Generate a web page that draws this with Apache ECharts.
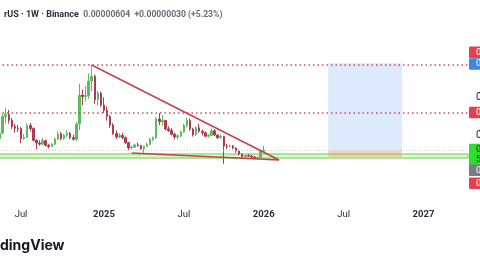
<!DOCTYPE html>
<html>
<head>
<meta charset="utf-8">
<script src="https://cdn.jsdelivr.net/npm/echarts@6/dist/echarts.min.js"></script>
<style>
  html, body { margin: 0; padding: 0; background: #fff; }
  #chart { width: 480px; height: 270px; }
</style>
</head>
<body>
<div id="chart"></div>
<script>
// PEPE / USDT weekly, prices in units of 0.000001
const firstWeek = '2024-05-13'
const weekCount = 153

const opens = [9.0, 10.5, 14.9, 15.4, 13.9, 12.2, 11.8, 11.7, 9.1, 9.4, 12.5, 11.7, 8.6, 7.9, 7.6, 8.5, 7.3, 7.0, 7.6, 8.9,
  10.3, 9.1, 9.9, 10.4, 9.3, 8.9, 12.9, 20.5, 20.1, 20.4, 24.2, 25.4, 19.3, 21.0, 17.9, 16.5, 14.9, 12.6, 10.4, 9.5,
  9.9, 9.3, 8.0, 6.6, 6.8, 7.4, 7.2, 6.4, 7.0, 7.5, 8.9, 9.3, 14.2, 13.5, 13.8, 11.6, 11.2, 10.2, 9.5, 9.8,
  10.8, 12.5, 13.8, 11.6, 10.1, 11.9, 11.0, 10.6, 9.7, 9.9, 11.1, 10.0, 9.3, 9.6, 7.1, 7.0, 7.1, 6.6, 5.8, 5.0,
  4.3, 4.6, 4.5, 4.2, 4.0, 4.1, 5.74]
const closes = [10.5, 14.9, 15.4, 13.9, 12.2, 11.8, 11.7, 9.1, 9.4, 12.5, 11.7, 8.6, 7.9, 7.6, 8.5, 7.3, 7.0, 7.6, 8.9, 10.3,
  9.1, 9.9, 10.4, 9.3, 8.9, 12.9, 20.5, 20.1, 20.4, 24.2, 25.4, 19.3, 21.0, 17.9, 16.5, 14.9, 12.6, 10.4, 9.5, 9.9,
  9.3, 8.0, 6.6, 6.8, 7.4, 7.2, 6.4, 7.0, 7.5, 8.9, 9.3, 14.2, 13.5, 13.8, 11.6, 11.2, 10.2, 9.5, 9.8, 10.8,
  12.5, 13.8, 11.6, 10.1, 11.9, 11.0, 10.6, 9.7, 9.9, 11.1, 10.0, 9.3, 9.6, 7.1, 7.0, 7.1, 6.6, 5.8, 5.0, 4.3,
  4.6, 4.5, 4.2, 4.0, 4.1, 5.74, 6.04]
const lows = [8.5, 10.2, 13.0, 13.0, 11.6, 10.6, 10.8, 7.9, 8.7, 9.2, 11.0, 8.3, 6.2, 7.2, 7.4, 7.0, 6.5, 6.8, 7.3, 8.7,
  8.6, 8.7, 9.5, 8.9, 8.5, 8.4, 11.3, 17.8, 18.8, 19.5, 21.5, 18.2, 17.7, 17.4, 15.8, 13.8, 11.9, 10.0, 8.9, 9.1,
  8.9, 7.6, 6.0, 6.2, 6.6, 6.9, 6.1, 5.3, 6.9, 7.4, 8.4, 9.0, 12.6, 12.4, 11.2, 10.8, 9.9, 8.9, 8.8, 9.4,
  10.6, 12.0, 11.1, 9.6, 9.8, 10.6, 9.9, 9.4, 9.3, 9.8, 9.7, 8.9, 9.1, 2.4, 6.4, 6.7, 6.3, 5.3, 4.7, 4.0,
  4.2, 4.2, 4.0, 3.8, 3.9, 4.0, 5.5]
const highs = [11.0, 15.6, 17.2, 16.6, 14.5, 12.9, 12.6, 12.1, 10.3, 13.0, 13.2, 12.0, 8.9, 8.6, 9.2, 8.8, 7.7, 7.9, 9.3, 10.9,
  10.8, 10.3, 11.3, 10.8, 10.1, 13.4, 23.5, 22.0, 22.8, 26.2, 28.4, 25.9, 21.6, 21.4, 19.9, 17.5, 15.3, 13.1, 11.2, 10.5,
  10.6, 9.6, 8.2, 7.2, 7.7, 8.0, 7.4, 7.2, 8.0, 9.2, 9.6, 14.6, 15.8, 15.2, 14.0, 12.3, 11.8, 10.6, 10.2, 11.2,
  13.0, 14.6, 14.3, 11.9, 12.3, 12.9, 11.4, 10.9, 10.3, 11.7, 11.5, 10.2, 10.2, 9.8, 7.7, 7.5, 7.4, 6.8, 6.2, 5.1,
  4.8, 5.0, 4.8, 4.4, 4.3, 6.2, 7.2]

// horizontal levels
const dottedLevels = [28.4, 15.8]
const lastPrice = 6.04
const supportBand = [5.0, 3.96]

// triangle pattern: [week, price]
const triUpper = [['2024-12-09', 28.4], ['2026-02-09', 3.43]]
const triLower = [['2025-03-10', 5.27], ['2026-02-09', 3.43]]

// projection box: [week from, week to], prices
const boxWeeks = ['2026-06-01', '2026-11-16']
const boxTop = 28.9
const boxEntry = 5.9
const boxStop = 4.3

// right-hand price tags
const tagPrices = [31.8, 28.7, 15.9, 4.8, 0.7, -2.7]
const tagTexts = ['0.00003180', '0.00002870', '0.00001590', '0.00000604\n5d 12h', '0.00000070', '0.00000000']

const weeks = []
const d0 = new Date(firstWeek + 'T00:00:00Z')
for (let i = 0; i < weekCount; i++) {
  weeks.push(new Date(d0.getTime() + i * 7 * 86400000).toISOString().slice(0, 10))
}
const candles = opens.map((o, i) => [o, closes[i], lows[i], highs[i]])

const up = '#5cbc5c'
const down = '#b03a52'
const font = 'Roboto, "Noto Sans", sans-serif'

const chart = echarts.init(document.getElementById('chart'))
chart.setOption({
  animation: false,
  backgroundColor: '#fff',
  title: {
    left: -1,
    top: 5,
    text: '{s|rUS · 1W · Binance  }{v|0.00000604  +0.00000030 (+5.23%)}',
    textStyle: {
      fontSize: 9,
      rich: {
        s: { fontFamily: font, fontSize: 9, color: '#2a2e39' },
        v: { fontFamily: font, fontSize: 8.6, color: '#6a6d78' }
      }
    }
  },
  grid: { left: -2, right: 12, top: 21, bottom: 97, outerBoundsMode: 'none', containLabel: false },
  xAxis: {
    type: 'category',
    data: weeks,
    axisLine: { show: false },
    axisTick: { show: false },
    splitLine: { show: false },
    axisLabel: {
      margin: 37,
      interval: (idx, val) => {
        const m = val.slice(5, 7)
        return (m === '01' || m === '07') && +val.slice(8) <= 7
      },
      formatter: val => val.slice(5, 7) === '01' ? '{y|' + val.slice(0, 4) + '}' : 'Jul',
      fontFamily: font,
      fontSize: 9.5,
      color: '#2a2e39',
      rich: { y: { fontFamily: font, fontSize: 9.5, fontWeight: 'bold', color: '#2a2e39' } }
    }
  },
  yAxis: {
    type: 'value',
    position: 'right',
    min: 0,
    max: 40,
    interval: 10,
    axisLine: { show: false },
    axisTick: { show: false },
    splitLine: { show: false },
    axisLabel: {
      margin: 8,
      fontFamily: font,
      fontSize: 10,
      color: '#131722',
      formatter: v => (v === 10 || v === 20) ? (v / 1e6).toFixed(8) : ''
    }
  },
  series: [{
    type: 'candlestick',
    data: candles,
    barWidth: 2,
    itemStyle: { color: up, color0: down, borderColor: up, borderColor0: down, borderWidth: 1 },
    markArea: {
      silent: true,
      data: [
        [{ yAxis: supportBand[0], itemStyle: { color: 'rgba(160,235,140,0.35)', borderColor: '#95e07a', borderWidth: 1.5 } },
         { yAxis: supportBand[1] }],
        [{ xAxis: boxWeeks[0], yAxis: boxTop, itemStyle: { color: 'rgba(120,170,240,0.25)' } },
         { xAxis: boxWeeks[1], yAxis: boxEntry }],
        [{ xAxis: boxWeeks[0], yAxis: boxEntry, itemStyle: { color: 'rgba(235,150,110,0.45)' } },
         { xAxis: boxWeeks[1], yAxis: boxStop }]
      ]
    },
    markLine: {
      silent: true,
      symbol: 'none',
      label: { show: false },
      data: [
        ...dottedLevels.map(v => ({ yAxis: v, lineStyle: { color: '#d24b5e', type: [1.5, 3], width: 1.5 } })),
        { yAxis: lastPrice, lineStyle: { color: '#c9d3c9', type: [1, 2], width: 1 } },
        [{ coord: triUpper[0], lineStyle: { color: '#c8404c', type: 'solid', width: 1.6 } }, { coord: triUpper[1] }],
        [{ coord: triLower[0], lineStyle: { color: '#c8404c', type: 'solid', width: 1.6 } }, { coord: triLower[1] }]
      ]
    }
  }]
})

const tagColors = ['#e5404e', '#3d86e6', '#e5404e', '#2fdc2f', '#787b86', '#e5404e']
const tagInk = ['#fff', '#fff', '#fff', '#0b3d0b', '#fff', '#fff']
const tags = tagPrices.map((p, i) => {
  const y = chart.convertToPixel({ yAxisIndex: 0 }, p)
  const h = i === 3 ? 22 : 11.5
  return {
    type: 'group',
    children: [
      { type: 'rect', shape: { x: 469, y: y - h / 2, width: 14, height: h, r: 1 }, style: { fill: tagColors[i] } },
      { type: 'text', x: 476, y: y - h / 2 + 1, style: { text: tagTexts[i], fill: tagInk[i], font: '9px ' + font, lineHeight: 10 } }
    ]
  }
})
chart.setOption({
  graphic: [
    ...tags,
    { type: 'text', left: 0, top: 239, style: { text: 'dingView', fill: '#131722', font: 'bold 14px Inter, Roboto, sans-serif' } }
  ]
})
</script>
</body>
</html>
